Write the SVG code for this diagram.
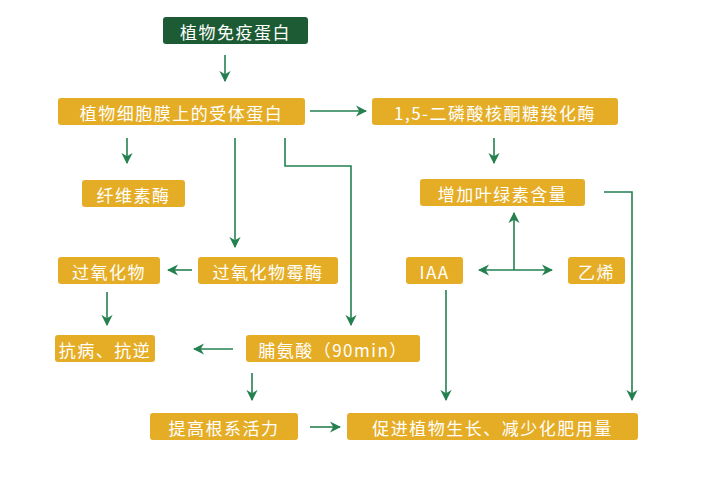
<svg xmlns="http://www.w3.org/2000/svg" width="727" height="497" viewBox="0 0 727 497">
<style>
.b{fill:#e5ad25}
.t{fill:#fff;font-family:"Noto Sans CJK SC","Noto Sans",sans-serif;font-size:17px;text-anchor:middle;dominant-baseline:central;letter-spacing:1.5px}
.c path{fill:none;stroke:#258050;stroke-width:1.6}
</style>
<defs><marker id="a" viewBox="0 0 10 10" refX="9" refY="5" markerWidth="7" markerHeight="7" orient="auto-start-reverse"><path d="M0,0 L10,5 L0,10 L3,5z" fill="#258050"/></marker></defs>
<rect width="727" height="497" fill="#fff"/>
<g id="n1"><rect x="163" y="17" width="145" height="27" rx="3" fill="#1c5b33"/><text class="t" x="235.5" y="31">植物免疫蛋白</text></g>
<g id="n2"><rect class="b" x="58" y="98" width="247" height="27" rx="3"/><text class="t" x="181.5" y="112">植物细胞膜上的受体蛋白</text></g>
<g id="n3"><rect class="b" x="82" y="180" width="103" height="27" rx="3"/><text class="t" x="133.5" y="194">纤维素酶</text></g>
<g id="n4"><rect class="b" x="372" y="98" width="246" height="27" rx="3"/><text class="t" x="495" y="112">1,5-二磷酸核酮糖羧化酶</text></g>
<g id="n5"><rect class="b" x="420" y="179" width="165" height="27" rx="3"/><text class="t" x="502.5" y="193">增加叶绿素含量</text></g>
<g id="n6"><rect class="b" x="406" y="257" width="57" height="27" rx="3"/><text class="t" x="434.5" y="271">IAA</text></g>
<g id="n7"><rect class="b" x="568" y="257" width="57" height="27" rx="3"/><text class="t" x="596.5" y="271">乙烯</text></g>
<g id="n8"><rect class="b" x="58" y="257" width="102" height="27" rx="3"/><text class="t" x="109" y="271">过氧化物</text></g>
<g id="n9"><rect class="b" x="198" y="257" width="140" height="27" rx="3"/><text class="t" x="268" y="271">过氧化物霉酶</text></g>
<g id="n10"><rect class="b" x="55" y="335" width="100" height="27" rx="3"/><text class="t" x="105" y="349">抗病、抗逆</text></g>
<g id="n11"><rect class="b" x="246" y="335" width="174" height="27" rx="3"/><text class="t" x="333" y="349">脯氨酸（90min）</text></g>
<g id="n12"><rect class="b" x="150" y="413" width="148" height="27" rx="3"/><text class="t" x="224" y="427">提高根系活力</text></g>
<g id="n13"><rect class="b" x="347" y="413" width="291" height="27" rx="3"/><text class="t" x="492.5" y="427">促进植物生长、减少化肥用量</text></g>
<g class="c" id="connectors">
<path d="M225,55V81" marker-end="url(#a)"/>
<path d="M310,111H366" marker-end="url(#a)"/>
<path d="M127,138V163" marker-end="url(#a)"/>
<path d="M235,138V247" marker-end="url(#a)"/>
<path d="M285,138V166H351V325" marker-end="url(#a)"/>
<path d="M494,138V163" marker-end="url(#a)"/>
<path d="M604,192H632V400" marker-end="url(#a)"/>
<path d="M514,270V213" marker-end="url(#a)"/>
<path d="M479,270H552" marker-start="url(#a)" marker-end="url(#a)"/>
<path d="M446,290V400" marker-end="url(#a)"/>
<path d="M192,270H168" marker-end="url(#a)"/>
<path d="M107,292V325" marker-end="url(#a)"/>
<path d="M233,349H194" marker-end="url(#a)"/>
<path d="M252,373V400" marker-end="url(#a)"/>
<path d="M310,427H340" marker-end="url(#a)"/>
</g>
</svg>
